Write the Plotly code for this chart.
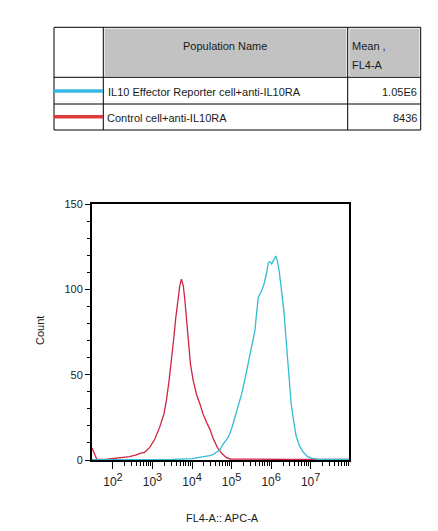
import plotly.graph_objects as go

# ---------------- data ----------------
population_names = ["IL10 Effector Reporter cell+anti-IL10RA", "Control cell+anti-IL10RA"]
mean_fl4a = ["1.05E6", "8436"]

# histogram of control cells (x given as log10 of FL4-A)
control_log10 = [1.47, 1.52, 1.59, 1.8, 2.13, 2.42, 2.59, 2.68, 2.80, 2.93, 3.06, 3.18, 3.29, 3.35,
                 3.42, 3.48, 3.54, 3.59, 3.65, 3.69, 3.73, 3.78, 3.82, 3.86, 3.90, 3.96, 4.03,
                 4.11, 4.20, 4.28, 4.37, 4.45, 4.54, 4.64, 4.75, 4.86, 4.96, 5.5, 6.5, 7.5, 7.97]
control_count = [7.0, 4.0, 0.5, 0.3, 1.0, 2.0, 3.0, 3.9, 4.5, 7.4, 12.3, 19.1, 27.0, 34.7,
                 46.5, 58.2, 71.8, 83.6, 95.3, 102.0, 106.0, 102.0, 93.3, 81.6, 69.9, 56.2, 46.5,
                 38.7, 32.8, 27.0, 22.0, 18.1, 12.3, 7.4, 3.9, 1.5, 0.6, 0.4, 0.3, 0.3, 0.3]

# histogram of IL10 effector reporter cells
reporter_log10 = [1.47, 3.0, 3.5, 4.0, 4.28, 4.45, 4.54, 4.62, 4.705, 4.79, 4.915, 5.00, 5.085,
                  5.17, 5.255, 5.34, 5.42, 5.51, 5.59, 5.635, 5.676, 5.76, 5.82, 5.89, 5.93,
                  5.97, 6.015, 6.056, 6.117, 6.157, 6.208, 6.269, 6.327, 6.378, 6.421, 6.461,
                  6.504, 6.563, 6.631, 6.715, 6.816, 6.918, 7.03, 7.2, 7.97]
reporter_count = [0.2, 0.2, 0.3, 0.8, 1.6, 2.5, 3.2, 4.5, 6.0, 9.4, 13.2, 18.2, 25.0,
                  31.8, 38.7, 47.5, 57.2, 67.0, 75.8, 86.5, 95.3, 99.2, 103.0, 110.0, 115.8,
                  116.2, 114.8, 116.8, 119.5, 116.8, 110.0, 98.2, 86.5, 70.9, 57.2, 43.5,
                  33.7, 24.0, 14.2, 8.4, 4.5, 2.1, 0.9, 0.3, 0.3]

x_tick_exponents = [2, 3, 4, 5, 6, 7]
y_tick_values = [0, 50, 100, 150]

# ---------------- styles ----------------
FONT = "Liberation Sans, Arial, sans-serif"
RED = "#cf2444"
BLUE = "#33bcd2"
LEG_RED = "#dc3c3c"
LEG_BLUE = "#38b8e2"

OFF = 8  # page body margin of the browser
W, H = 438 - OFF, 531 - OFF
PL, PR, PT, PB = 92, 349, 204, 460  # plot area in window pixels


def px(x):
    return (x - PL) / (PR - PL)


def py(y):
    return (PB - y) / (PB - PT)


fig = go.Figure()
fig.add_trace(go.Scatter(x=[10 ** v for v in control_log10], y=control_count, mode="lines",
                         line=dict(color=RED, width=1.3), name=population_names[1],
                         showlegend=False))
fig.add_trace(go.Scatter(x=[10 ** v for v in reporter_log10], y=reporter_count, mode="lines",
                         line=dict(color=BLUE, width=1.3), name=population_names[0],
                         showlegend=False))

minor_vals = [m * 10 ** d for d in range(2, 8) for m in range(2, 10)]

fig.update_layout(
    width=W, height=H,
    margin=dict(l=PL - OFF, r=438 - PR, t=PT - OFF, b=531 - PB, autoexpand=False),
    paper_bgcolor="white", plot_bgcolor="white",
    font=dict(family=FONT, size=11, color="#222"),
    xaxis=dict(type="log", range=[1.47, 7.97],
               tickmode="array", tickvals=[10 ** e for e in x_tick_exponents],
               ticktext=["10<sup><span style='font-size:11px'>%d</span></sup>" % e
                         for e in x_tick_exponents],
               ticks="outside", ticklen=7, tickwidth=1, tickcolor="black",
               minor=dict(tickmode="array", tickvals=minor_vals, ticks="outside",
                          ticklen=4, tickwidth=1, tickcolor="black"),
               showline=True, linecolor="black", linewidth=2, mirror=True,
               showgrid=False, zeroline=False, tickfont=dict(size=12),
               ticklabelstandoff=3),
    yaxis=dict(range=[0, 150], tickmode="array", tickvals=y_tick_values,
               ticks="outside", ticklen=5, tickwidth=1, tickcolor="black",
               minor=dict(dtick=10, ticks="outside", ticklen=3, tickwidth=1, tickcolor="black"),
               showline=True, linecolor="black", linewidth=2, mirror=True,
               showgrid=False, zeroline=False, tickfont=dict(size=11)),
)

shapes = []
# header grey cells
for x0, x1 in [(104.5, 346.5), (349, 419.5)]:
    shapes.append(dict(type="rect", xref="paper", yref="paper",
                       x0=px(x0), x1=px(x1), y0=py(76.5), y1=py(28.5),
                       fillcolor="#c2c2c2", line=dict(color="#e6e6e6", width=1)))
# outer table border
shapes.append(dict(type="rect", xref="paper", yref="paper",
                   x0=px(54), x1=px(420.7), y0=py(130), y1=py(27.3),
                   line=dict(color="black", width=1)))
# column dividers
for xc in [103.3, 347.7]:
    shapes.append(dict(type="line", xref="paper", yref="paper",
                       x0=px(xc), x1=px(xc), y0=py(27.3), y1=py(130),
                       line=dict(color="black", width=1)))
# row dividers
for yr in [77.3, 104]:
    shapes.append(dict(type="line", xref="paper", yref="paper",
                       x0=px(54), x1=px(420.7), y0=py(yr), y1=py(yr),
                       line=dict(color="black", width=1)))
# legend swatches
for yc, col in [(91.0, LEG_BLUE), (116.8, LEG_RED)]:
    shapes.append(dict(type="line", xref="paper", yref="paper",
                       x0=px(54), x1=px(103), y0=py(yc), y1=py(yc),
                       line=dict(color=col, width=3.5)))
fig.update_layout(shapes=shapes)

ann = []


def add_text(text, x, y, xanchor="left", size=11, textangle=0):
    ann.append(dict(text=text, xref="paper", yref="paper", x=px(x), y=py(y),
                    xanchor=xanchor, yanchor="middle", showarrow=False,
                    textangle=textangle, font=dict(family=FONT, size=size, color="#1a1a1a")))


add_text("Population Name", 225, 46, "center")
add_text("Mean ,", 349.5, 46, "left")
add_text("FL4-A", 349.5, 64.5, "left")
add_text(population_names[0], 105.5, 91.5, "left")
add_text(population_names[1], 104.5, 118, "left")
add_text(mean_fl4a[0], 419, 91.5, "right")
add_text(mean_fl4a[1], 419, 118, "right")
add_text("FL4-A:: APC-A", 222.7, 518, "center")
add_text("Count", 40, 331, "center", textangle=-90)
fig.update_layout(annotations=ann)

fig.write_html("out.html")
